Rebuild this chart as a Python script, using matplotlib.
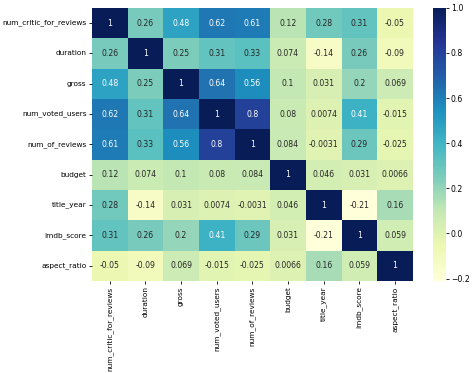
import numpy as np
import matplotlib
matplotlib.use('Agg')
import matplotlib.pyplot as plt
import seaborn as sns

# colunas da matriz de correlação
colunas = ['num_critic_for_reviews', 'duration', 'gross', 'num_voted_users',
           'num_of_reviews', 'budget', 'title_year', 'imdb_score', 'aspect_ratio']

corr = np.array([
    [1,     0.26,  0.48,  0.62,    0.61,    0.12,   0.28,    0.31,  -0.05],
    [0.26,  1,     0.25,  0.31,    0.33,    0.074, -0.14,    0.26,  -0.09],
    [0.48,  0.25,  1,     0.64,    0.56,    0.1,    0.031,   0.2,    0.069],
    [0.62,  0.31,  0.64,  1,       0.8,     0.08,   0.0074,  0.41,  -0.015],
    [0.61,  0.33,  0.56,  0.8,     1,       0.084, -0.0031,  0.29,  -0.025],
    [0.12,  0.074, 0.1,   0.08,    0.084,   1,      0.046,   0.031,  0.0066],
    [0.28, -0.14,  0.031, 0.0074, -0.0031,  0.046,  1,      -0.21,   0.16],
    [0.31,  0.26,  0.2,   0.41,    0.29,    0.031, -0.21,    1,      0.059],
    [-0.05, -0.09, 0.069, -0.015, -0.025,   0.0066, 0.16,    0.059,  1],
])

fig = plt.figure(figsize=(4.74, 3.73), dpi=100)
ax = fig.add_axes([0.194, 0.247, 0.677, 0.732])
cax = fig.add_axes([0.9135, 0.247, 0.0274, 0.732])

sns.heatmap(corr, annot=True, cmap='YlGnBu', ax=ax, cbar_ax=cax,
            xticklabels=colunas, yticklabels=colunas,
            annot_kws={'fontsize': 5.6})

ax.tick_params(labelsize=5.3, length=2, width=0.6, pad=2)
ax.set_xticklabels(colunas, rotation=90)
ax.set_yticklabels(colunas, rotation=0)
cax.tick_params(labelsize=5.6, length=2, width=0.6, pad=1.5)
cax.set_yticks([-0.2, 0.0, 0.2, 0.4, 0.6, 0.8, 1.0])

fig.savefig('out.png', dpi=100)
